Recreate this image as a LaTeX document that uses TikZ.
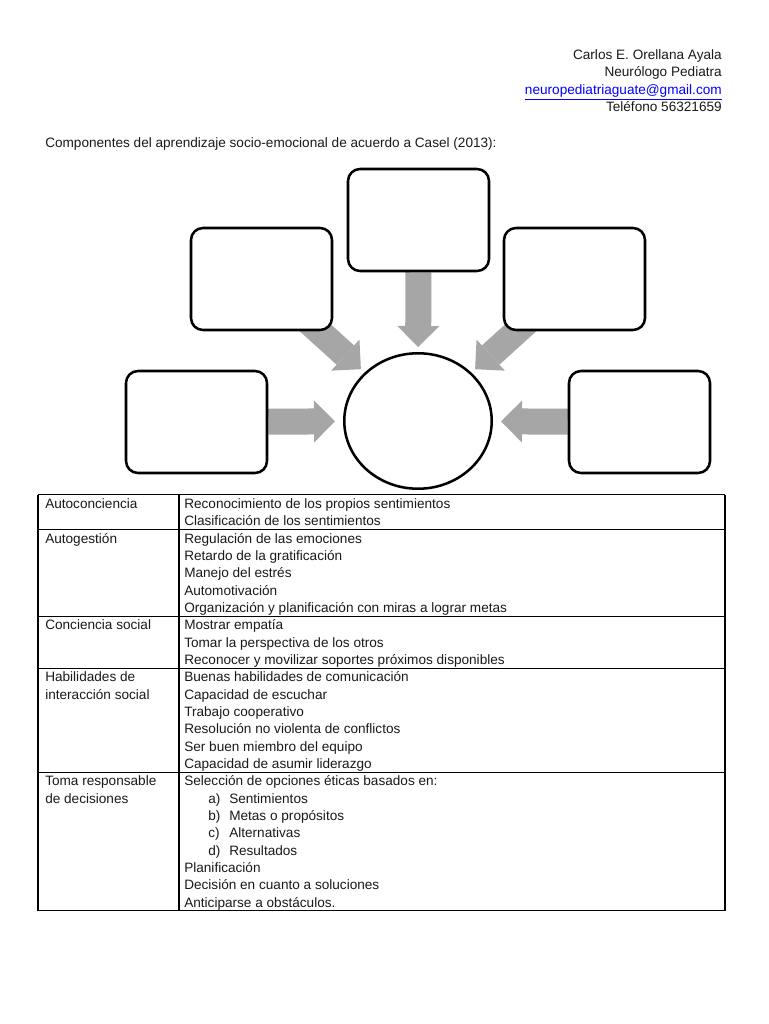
\documentclass[tikz,border=0pt]{standalone}
\usepackage{fontspec}
\setmainfont{Liberation Sans}
\usetikzlibrary{arrows.meta,shapes.geometric,backgrounds}
\definecolor{arrowgray}{HTML}{A6A6A6}
\definecolor{linkblue}{HTML}{0000FF}
\definecolor{ink}{HTML}{1A1A1A}
\newcommand{\opcion}[2]{\hbox to 33.75pt{\hskip18pt #1\hfil}#2}
\tikzset{
    compbox/.style={draw=black,fill=white,line width=1.9pt,rounded corners=9pt,
      minimum width=105.75pt,minimum height=76.5pt,inner sep=0pt},
    hubnode/.style={draw=black,fill=white,ellipse,line width=1.9pt,
      minimum width=110.6pt,minimum height=101.6pt,inner sep=0pt},
    blockarrow/.style={draw=arrowgray,line width=19.5pt,line cap=butt,
      -{Triangle[length=15.75pt,width=31.5pt,line width=0pt]}},
    celltext/.style={anchor=base west,inner sep=0pt,text=ink},
    headtext/.style={anchor=base east,inner sep=0pt,text=ink},
    tablerule/.style={draw=black,line width=0.8pt}
}
\begin{document}
\begin{tikzpicture}[x=0.75pt,y=-0.75pt,font=\fontsize{10.2}{13}\selectfont]
  \useasboundingbox (0,0) rectangle (768,1024);
  % header
  \node[headtext] (name) at (722,59.5) {Carlos E. Orellana Ayala};
  \node[headtext] (job) at (722,77) {Neurólogo Pediatra};
  \node[headtext,text=linkblue] (mail) at (722,94.5) {\underline{neuropediatriaguate@gmail.com}};
  \node[headtext] (tel) at (722,111.5) {Teléfono 56321659};
  \node[celltext] (title) at (45,147) {Componentes del aprendizaje socio-emocional de acuerdo a Casel (2013):};
  % diagram
  \node[compbox] (top) at (418.5,220) {};
  \node[compbox] (ul) at (261.5,279) {};
  \node[compbox] (ur) at (574.5,279) {};
  \node[compbox] (lf) at (196.5,422) {};
  \node[compbox] (rt) at (639.5,422) {};
  \node[hubnode] (hub) at (418,421) {};
  \begin{scope}[on background layer]
    \fill[white] (0,0) rectangle (768,1024);
    \draw[blockarrow,shorten >=3.75pt] (top) -- (hub);
    \draw[blockarrow,shorten <=-15pt,shorten >=3.75pt] (ul) -- (hub);
    \draw[blockarrow,shorten <=-15pt,shorten >=3.75pt] (ur) -- (hub);
    \draw[blockarrow,shorten >=6pt] (lf) -- (hub);
    \draw[blockarrow,shorten >=6pt] (rt) -- (hub);
  \end{scope}
  % table
  \foreach \k in {-0.5,1.5,6.5,9.5,15.5,23.5}
    \draw[tablerule] (38,{503.5+17.33*\k}) -- (725,{503.5+17.33*\k});
  \foreach \x in {38,179,725}
    \draw[tablerule] (\x,494.8) -- (\x,910.8);
  \foreach \k/\t in {0/Autoconciencia,2/Autogestión,7/Conciencia social,
      10/Habilidades de,11/interacción social,16/Toma responsable,17/de decisiones}
    \node[celltext] (c\k) at (45,{508.5+17.33*\k}) {\t};
  \foreach \t [count=\k from 0] in {Reconocimiento de los propios sentimientos,
      Clasificación de los sentimientos,
      Regulación de las emociones,
      Retardo de la gratificación,
      Manejo del estrés,
      Automotivación,
      Organización y planificación con miras a lograr metas,
      Mostrar empatía,
      Tomar la perspectiva de los otros,
      Reconocer y movilizar soportes próximos disponibles,
      Buenas habilidades de comunicación,
      Capacidad de escuchar,
      Trabajo cooperativo,
      Resolución no violenta de conflictos,
      Ser buen miembro del equipo,
      Capacidad de asumir liderazgo,
      Selección de opciones éticas basados en:,
      {\opcion{a)}{Sentimientos}},
      {\opcion{b)}{Metas o propósitos}},
      {\opcion{c)}{Alternativas}},
      {\opcion{d)}{Resultados}},
      Planificación,
      Decisión en cuanto a soluciones,
      Anticiparse a obstáculos.}
    \node[celltext] (r\k) at (184,{508.5+17.33*\k}) {\t};
\end{tikzpicture}
\end{document}
